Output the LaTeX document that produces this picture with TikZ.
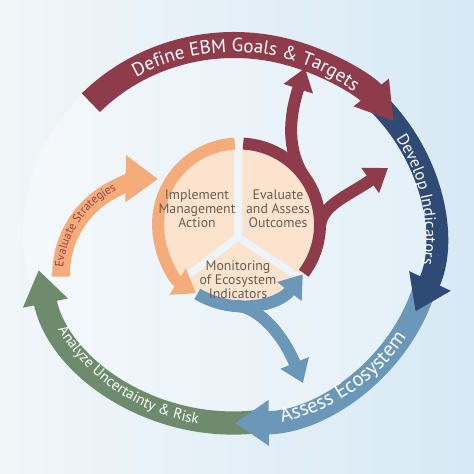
\documentclass[tikz,border=0pt]{standalone}
\usepackage{fontspec}
\setmainfont{PT Sans}
\usepackage{tikz}
\usetikzlibrary{arrows.meta, decorations.text}

\definecolor{goalred}{HTML}{8E3B4B}
\definecolor{indnavy}{HTML}{2E4A75}
\definecolor{ecoblue}{HTML}{6B97B8}
\definecolor{riskgreen}{HTML}{6E8C6D}
\definecolor{stratorange}{HTML}{F5AC7B}
\definecolor{hubpeach}{HTML}{FCE3CE}
\definecolor{hubgrey}{HTML}{6A5B55}
\definecolor{stratred}{HTML}{9E4246}
\definecolor{bgleft}{HTML}{F1F6F9}
\definecolor{bgright}{HTML}{D7E9F5}
\definecolor{bggap}{HTML}{EDF5FA}

\tikzstyle{ringband} = [line width=16.5pt]
\tikzstyle{loopband} = [line width=12.5pt]
\tikzstyle{hubband}  = [line width=8.5pt]
\tikzstyle{bigtip}   = [-{Triangle[length=24pt,width=31pt]}]
\tikzstyle{smalltip} = [-{Triangle[length=15.5pt,width=21pt]}]
\tikzstyle{gapline}  = [line width=5pt, draw=bggap]
\tikzstyle{hubtext}  = [align=center, text=hubgrey, font=\fontsize{9.8}{9.9}\selectfont]
\tikzstyle{ringtext} = [decorate, decoration={text along path, text align=center, text color=white}]

\begin{document}
\begin{tikzpicture}[x=0.025cm, y=0.025cm]
    \useasboundingbox (-234,-240) rectangle (240,234);
    % Background
    \shade [left color=bgleft, right color=bgright] (-234,-240) rectangle (240,234);
    \fill [white, opacity=.3] (0,0) ellipse [x radius=211, y radius=201];

    % Centres and free ends
    \coordinate (ring)    at (0,0);
    \coordinate (hub)     at (5,9.5);
    \coordinate (fork)    at (4,-3);
    \coordinate (loop)    at (-77,-41);
    \coordinate (upTip)   at (71,166);
    \coordinate (sideTip) at (154,66);
    \coordinate (downTip) at (69,-149);

    % Outer cycle
    \draw [loopband, stratorange, -{Triangle[length=23pt,width=32pt]}] (loop) ++(181:96) arc [start angle=181, end angle=89.4, radius=96];
    \draw [ringband, riskgreen, bigtip] (278:199 and 189) arc [start angle=278, end angle=191, x radius=199, y radius=189];
    \draw [ringband, ecoblue, bigtip]   (-18:199 and 189) arc [start angle=-18, end angle=-89.7, x radius=199, y radius=189];
    \draw [ringband, indnavy, line width=15.5pt, bigtip] (45:199 and 189) arc [start angle=45, end angle=-24.2, x radius=199, y radius=189];
    \draw [ringband, goalred, line width=18.5pt, -{Triangle[length=26pt,width=30pt]}] (136:199 and 189) arc [start angle=136, end angle=36.6, x radius=199, y radius=189];

    % Hub
    \fill [hubpeach] (hub) circle [radius=79];
    \draw [gapline] (fork) -- ++(90:95);
    \draw [gapline] (fork) -- ++(217.5:72);
    \draw [gapline] (fork) -- ++(-33.5:72);

    % Hub arrows
    \draw [hubband, goalred] (hub) ++(87:81) arc [start angle=87, end angle=-37, radius=81];
    \draw [hubband, goalred, smalltip] (hub) ++(38:81) .. controls (54,84) and (54,114) .. (upTip);
    \draw [hubband, goalred, smalltip] (hub) ++(-2:81) .. controls (87,29) and (114,38) .. (sideTip);
    \draw [hubband, ecoblue, smalltip] (hub) ++(239:81) arc [start angle=239, end angle=322, radius=81];
    \draw [hubband, ecoblue, smalltip] (hub) ++(268:81) .. controls (26,-74) and (49,-101) .. (downTip);
    \draw [hubband, stratorange, smalltip] (hub) ++(93:81) arc [start angle=93, end angle=238, radius=81];

    % Hub labels
    \node (implement)  [hubtext] at (-37,25) {Implement\\Management\\Action};
    \node (outcomes)   [hubtext] at (44,25)  {Evaluate\\and Assess\\Outcomes};
    \node (monitoring) [hubtext] at (4,-46)  {Monitoring\\of Ecosystem\\Indicators};

    % Ring labels
    \path [ringtext, decoration={text={|\fontsize{13.5}{13.5}\selectfont|Define EBM Goals {\&} Targets}}] (145.9:192 and 182) arc [start angle=145.9, end angle=25.9, x radius=192, y radius=182];
    \path [ringtext, decoration={text={|\fontsize{11.7}{11.7}\selectfont|Develop Indicators}}] (60.9:191 and 181) arc [start angle=60.9, end angle=-39.1, x radius=191, y radius=181];
    \path [ringtext, decoration={text={|\fontsize{14.6}{14.6}\selectfont|Assess Ecosystem}}] (-103.7:204 and 194) arc [start angle=-103.7, end angle=-3.7, x radius=204, y radius=194];
    \path [ringtext, decoration={text={|\fontsize{10.6}{10.6}\selectfont|Analyze Uncertainty {\&} Risk}}] (184.2:203 and 193) arc [start angle=184.2, end angle=284.2, x radius=203, y radius=193];
    \path [ringtext, decoration={text color=stratred, text={|\fontsize{8.5}{8.5}\selectfont|Evaluate Strategies}}] (loop) ++(205.4:94) arc [start angle=205.4, end angle=85.4, radius=94];
\end{tikzpicture}
\end{document}
